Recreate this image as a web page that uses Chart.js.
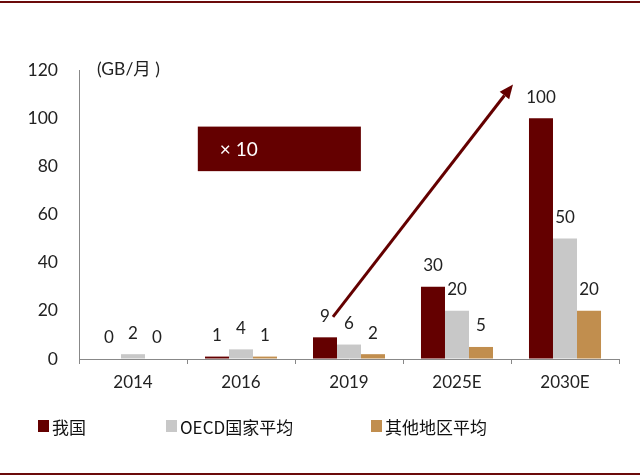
<!DOCTYPE html>
<html>
<head>
<meta charset="utf-8">
<script src="https://cdn.jsdelivr.net/npm/chart.js@4/dist/chart.umd.min.js"></script>
<style>
  html, body { margin: 0; padding: 0; background: #fff; }
  #wrap { position: relative; width: 640px; height: 475px; overflow: hidden; }
  #c { position: absolute; left: 0; top: 0; }
  .border { position: absolute; left: 0; width: 640px; height: 2px; background: #6b0a0a; }
  #legend { position: absolute; top: 414px; left: 0; width: 640px; height: 24px; font-family: "Noto Sans CJK SC", sans-serif; font-size: 17px; color: #111; }
  .li { position: absolute; top: 0; display: flex; align-items: center; height: 24px; }
  .sw { width: 11px; height: 12px; margin-right: 3px; display: inline-block; }
</style>
</head>
<body>
<div id="wrap">
  <div class="border" style="top:1px"></div>
  <canvas id="c" width="640" height="475"></canvas>
  <div id="legend"></div>
  <div class="border" style="top:473px"></div>
</div>
<script>
const categories = ["2014", "2016", "2019", "2025E", "2030E"];
const seriesNames = ["我国", "OECD国家平均", "其他地区平均"];
const china = [0, 1, 9, 30, 100];
const oecd = [2, 4, 6, 20, 50];
const others = [0, 1, 2, 5, 20];
const yTicks = [0, 20, 40, 60, 80, 100, 120];
const colors = ["#640000", "#C8C8C8", "#C18E4E"];
const unitLabel = "(GB/月 )";
const multiplierLabel = "× 10";

const FONT = "Lato, 'Noto Sans CJK SC', sans-serif";

const labelPlugin = {
  id: 'labels',
  afterDatasetsDraw(chart) {
    const ctx = chart.ctx;
    ctx.save();
    ctx.font = "17px " + FONT;
    ctx.fillStyle = "#222";
    ctx.textAlign = "center";
    ctx.textBaseline = "middle";
    chart.data.datasets.forEach((ds, i) => {
      const meta = chart.getDatasetMeta(i);
      meta.data.forEach((bar, j) => {
        ctx.fillText(String(ds.data[j]), bar.x, bar.y - 21);
      });
    });
    ctx.restore();
  }
};

const annotPlugin = {
  id: 'annot',
  afterDraw(chart) {
    const ctx = chart.ctx;
    const x = chart.scales.x, y = chart.scales.y;
    ctx.save();
    // unit label
    ctx.font = "17.5px " + FONT;
    ctx.fillStyle = "#222";
    ctx.textAlign = "left";
    ctx.textBaseline = "middle";
    ctx.fillText(unitLabel, x.left + 18, y.getPixelForValue(120) - 1);
    // box
    const bx0 = x.getPixelForValue(0.6), bx1 = x.getPixelForValue(2.11);
    const by0 = y.getPixelForValue(96.5), by1 = y.getPixelForValue(78);
    ctx.fillStyle = "#640000";
    ctx.fillRect(bx0, by0, bx1 - bx0, by1 - by0);
    ctx.fillStyle = "#fff";
    ctx.font = "19px " + FONT;
    ctx.fillText(multiplierLabel, bx0 + 22, (by0 + by1) / 2 + 1);
    // arrow
    const m0 = chart.getDatasetMeta(0).data[2];
    const m1 = chart.getDatasetMeta(0).data[4];
    const sx = m0.x + 8, sy = y.getPixelForValue(17.5);
    const ex = m1.x - 28, ey = y.getPixelForValue(114);
    const ang = Math.atan2(ey - sy, ex - sx);
    const hl = 14, hw = 6;
    const bxp = ex - hl * Math.cos(ang), byp = ey - hl * Math.sin(ang);
    ctx.strokeStyle = "#640000";
    ctx.lineWidth = 3;
    ctx.beginPath();
    ctx.moveTo(sx, sy);
    ctx.lineTo(bxp, byp);
    ctx.stroke();
    ctx.fillStyle = "#640000";
    ctx.beginPath();
    ctx.moveTo(ex, ey);
    ctx.lineTo(bxp + hw * Math.sin(ang), byp - hw * Math.cos(ang));
    ctx.lineTo(bxp - hw * Math.sin(ang), byp + hw * Math.cos(ang));
    ctx.closePath();
    ctx.fill();
    ctx.restore();
  }
};

const chart = new Chart(document.getElementById('c'), {
  type: 'bar',
  data: {
    labels: categories,
    datasets: [
      { label: seriesNames[0], data: china, backgroundColor: colors[0] },
      { label: seriesNames[1], data: oecd, backgroundColor: colors[1] },
      { label: seriesNames[2], data: others, backgroundColor: colors[2] }
    ]
  },
  options: {
    responsive: false,
    animation: false,
    devicePixelRatio: 1,
    layout: { padding: { left: 0, right: 21, top: 70, bottom: 76 } },
    plugins: { legend: { display: false }, tooltip: { enabled: false } },
    datasets: { bar: { categoryPercentage: 0.667, barPercentage: 1 } },
    scales: {
      x: {
        grid: { display: true, drawOnChartArea: false, tickLength: 5, color: "#888", offset: true },
        border: { display: true, color: "#888", width: 1 },
        ticks: { font: { family: FONT, size: 17 }, color: "#222", padding: 8 },
        afterFit(s) { s.height = 40; }
      },
      y: {
        min: 0, max: 120,
        afterBuildTicks(s) { s.ticks = yTicks.map(v => ({ value: v })); },
        grid: { display: true, drawOnChartArea: false, drawTicks: false },
        border: { display: true, color: "#888", width: 1 },
        ticks: { font: { family: FONT, size: 17.5 }, color: "#222", padding: 21 },
        afterFit(s) { s.width = 79; }
      }
    }
  },
  plugins: [labelPlugin, annotPlugin]
});

// legend
const legend = document.getElementById('legend');
const legendX = [38, 166, 371];
seriesNames.forEach((n, i) => {
  const d = document.createElement('div');
  d.className = 'li';
  d.style.left = legendX[i] + 'px';
  d.innerHTML = '<span class="sw" style="background:' + colors[i] + '"></span><span>' + n + '</span>';
  legend.appendChild(d);
});
</script>
</body>
</html>
